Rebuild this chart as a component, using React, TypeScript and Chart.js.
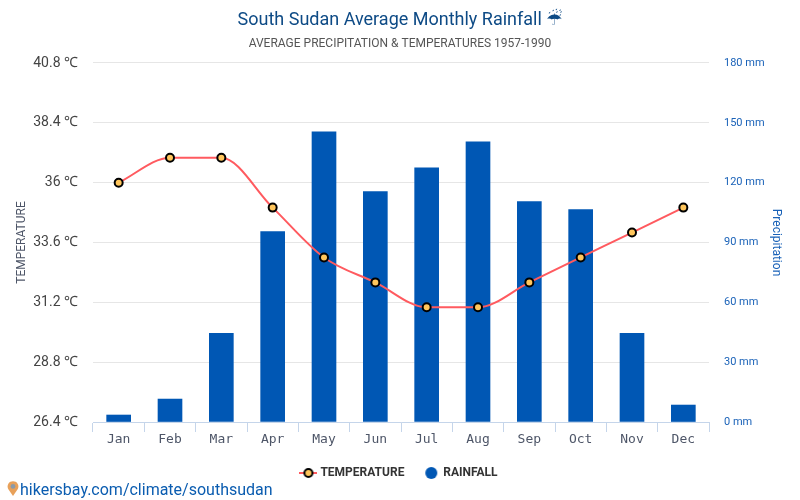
import { useEffect, useRef } from "react";
import { Chart, registerables } from "chart.js";

Chart.register(...registerables);

const months = ["Jan", "Feb", "Mar", "Apr", "May", "Jun", "Jul", "Aug", "Sep", "Oct", "Nov", "Dec"];
const temperature = [36, 37, 37, 35, 33, 32, 31, 31, 32, 33, 34, 35];
const rainfall = [3.5, 11.5, 44.5, 95.5, 145.5, 115.5, 127.5, 140.5, 110.5, 106.5, 44.5, 8.5];
const tempTicks = ["26.4 ℃", "28.8 ℃", "31.2 ℃", "33.6 ℃", "36 ℃", "38.4 ℃", "40.8 ℃"];
const rainTicks = ["0 mm", "30 mm", "60 mm", "90 mm", "120 mm", "150 mm", "180 mm"];

// legend marker for the line: short red stroke behind the yellow dot
function lineMarker() {
  const c = document.createElement("canvas");
  c.width = 18;
  c.height = 14;
  const g = c.getContext("2d")!;
  g.strokeStyle = "#ff5a5f";
  g.lineWidth = 2;
  g.beginPath();
  g.moveTo(0, 7);
  g.lineTo(18, 7);
  g.stroke();
  g.fillStyle = "#ffc65c";
  g.strokeStyle = "#000000";
  g.beginPath();
  g.arc(9, 7, 4, 0, Math.PI * 2);
  g.fill();
  g.stroke();
  return c;
}

function rainMarker() {
  const c = document.createElement("canvas");
  c.width = 14;
  c.height = 14;
  const g = c.getContext("2d")!;
  g.fillStyle = "#0057b4";
  g.beginPath();
  g.arc(7, 7, 6, 0, Math.PI * 2);
  g.fill();
  return c;
}

export default function App() {
  const canvasRef = useRef<HTMLCanvasElement>(null);

  useEffect(() => {
    document.body.style.margin = "0";
    if (!canvasRef.current) return;
    const chart = new Chart(canvasRef.current, {
      type: "bar",
      data: {
        labels: months,
        datasets: [
          {
            type: "line",
            label: "TEMPERATURE",
            data: temperature,
            yAxisID: "yTemp",
            borderColor: "#ff5a5f",
            borderWidth: 2,
            cubicInterpolationMode: "monotone",
            pointRadius: 4,
            pointBorderWidth: 2,
            pointBorderColor: "#000000",
            pointBackgroundColor: "#ffc65c",
            order: 0,
          },
          {
            type: "bar",
            label: "RAINFALL",
            data: rainfall,
            yAxisID: "yRain",
            backgroundColor: "#0057b4",
            barThickness: 24,
            order: 1,
          },
        ],
      },
      options: {
        responsive: false,
        animation: false,
        layout: { padding: { top: 10, bottom: 11 } },
        plugins: {
          title: {
            display: true,
            text: "South Sudan Average Monthly Rainfall ☔",
            color: "#0d4a85",
            font: { family: "Roboto, 'DejaVu Sans'", size: 18, weight: "normal" },
            padding: { top: 0, bottom: 3 },
          },
          subtitle: {
            display: true,
            text: "AVERAGE PRECIPITATION & TEMPERATURES 1957-1990",
            color: "#555555",
            font: { family: "Roboto", size: 12 },
            padding: { top: 2, bottom: 12 },
          },
          legend: {
            position: "bottom",
            labels: {
              usePointStyle: true,
              color: "#333333",
              font: { family: "Roboto", size: 12, weight: "bold" },
              // small padding keeps the legend box clear of the x labels,
              // the gap between the two items comes from the trailing spaces
              padding: 6,
              generateLabels: (c) =>
                c.data.datasets.map((d, i) => ({
                  text: i === 0 ? `${d.label}     ` : (d.label as string),
                  datasetIndex: i,
                  fontColor: "#333333",
                  lineWidth: 0,
                  pointStyle: i === 0 ? lineMarker() : rainMarker(),
                })),
            },
          },
          tooltip: { enabled: false },
        },
        scales: {
          x: {
            offset: true,
            grid: {
              drawOnChartArea: false,
              drawTicks: true,
              tickLength: 10,
              color: "#c5d5ea",
              offset: true,
            },
            border: { color: "#c5d5ea" },
            ticks: {
              color: "#4e5668",
              padding: 0,
              font: { family: "'DejaVu Sans Mono'", size: 13 },
            },
            afterFit: (s) => {
              s.height = 39;
            },
          },
          yTemp: {
            position: "left",
            min: 26.4,
            max: 40.8,
            ticks: {
              stepSize: 2.4,
              color: "#444444",
              padding: 15,
              font: { family: "Roboto", size: 14 },
              callback: (_v, i) => tempTicks[i],
            },
            grid: { color: "#e6e6e6", drawTicks: false },
            border: { display: false },
            title: {
              display: true,
              text: "TEMPERATURE",
              color: "#4e5668",
              font: { family: "Roboto", size: 12 },
              padding: { top: 15, bottom: 0 },
            },
            afterFit: (s) => {
              s.width = 93;
            },
          },
          yRain: {
            position: "right",
            min: 0,
            max: 180,
            ticks: {
              stepSize: 30,
              color: "#1a62b8",
              padding: 15,
              font: { family: "Roboto", size: 11 },
              callback: (_v, i) => rainTicks[i],
            },
            grid: { drawOnChartArea: false, drawTicks: false },
            border: { display: false },
            title: {
              display: true,
              text: "Precipitation",
              color: "#1a62b8",
              font: { family: "Roboto", size: 12 },
              padding: { top: 17, bottom: 0 },
            },
            afterFit: (s) => {
              s.width = 91;
            },
          },
        },
      },
    });
    return () => chart.destroy();
  }, []);

  return (
    <div style={{ position: "relative", width: 800, height: 500 }}>
      <canvas ref={canvasRef} width={800} height={500} style={{ display: "block" }} />
      <div
        style={{
          position: "absolute",
          left: 7,
          top: 480,
          display: "flex",
          alignItems: "center",
          fontFamily: "Roboto",
          fontSize: 16,
          lineHeight: "20px",
          color: "#0a5cb0",
        }}
      >
        <svg width="12" height="15" viewBox="0 0 12 15" style={{ marginRight: 1, marginTop: -3 }}>
          <path d="M6 15 L1.2 8 A5.4 5.4 0 1 1 10.8 8 Z" fill="#e8a15a" />
          <circle cx="6" cy="5.4" r="2.4" fill="#8c9aa8" />
        </svg>
        hikersbay.com/climate/southsudan
      </div>
    </div>
  );
}
